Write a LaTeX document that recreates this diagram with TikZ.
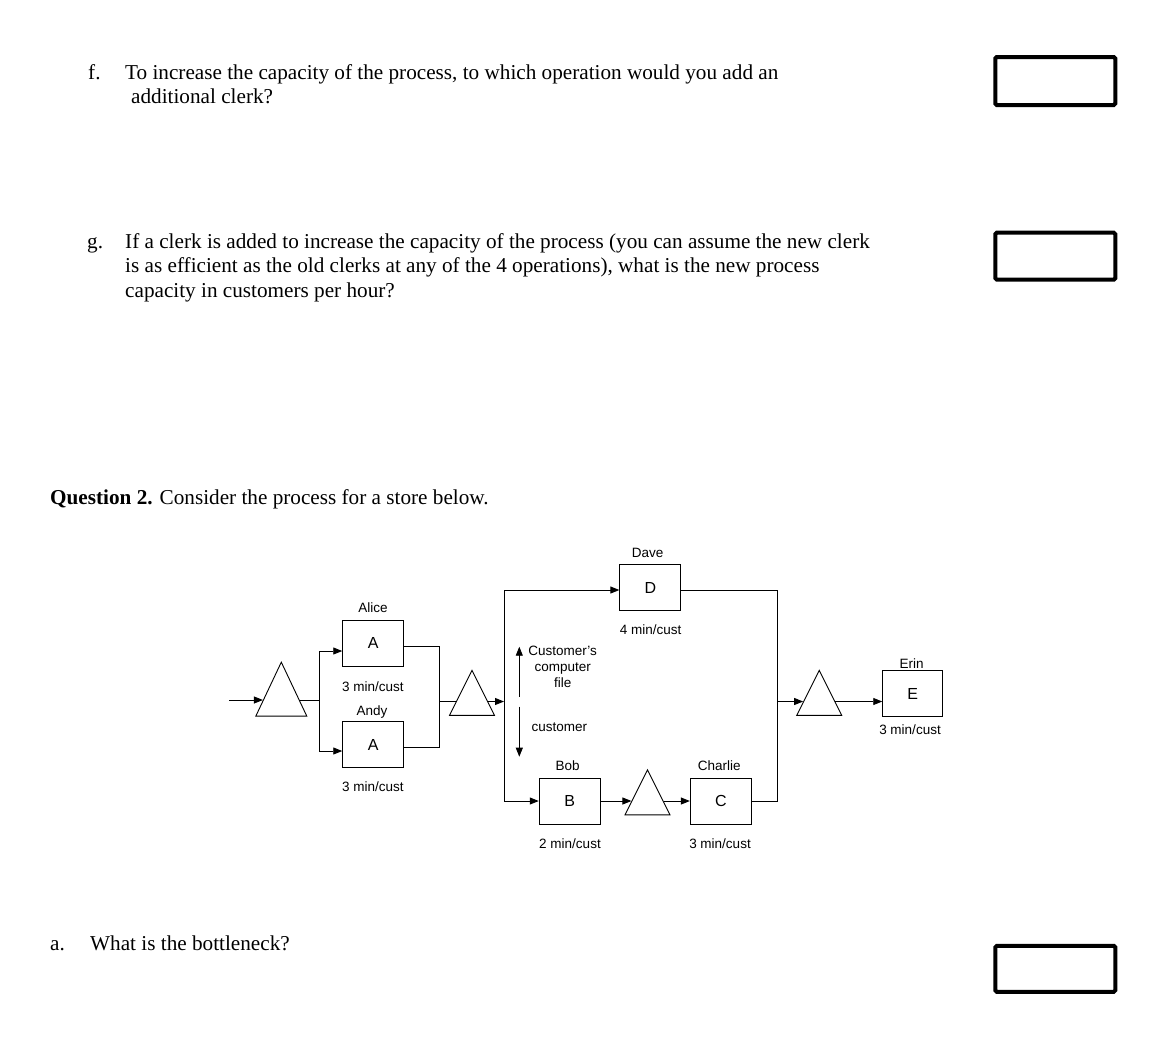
\documentclass[tikz,border=0pt]{standalone}
\usepackage{fontspec}
\setmainfont{Liberation Serif}
\setsansfont{Liberation Sans}
\usetikzlibrary{positioning, arrows.meta, shapes.geometric}

\begin{document}
\begin{tikzpicture}[
    x=1pt, y=-1pt,
    % question text: one node per printed line
    qline/.style = {anchor=base west, inner sep=0pt, font=\fontsize{21.2}{24}\selectfont},
    ansbox/.style = {draw=black, line width=4pt, rounded corners=1.5pt, minimum width=120pt, inner sep=0pt},
    proc/.style   = {draw=black, line width=0.9pt, minimum width=61pt, minimum height=46pt, inner sep=0pt,
                     font=\sffamily\fontsize{16}{18}\selectfont},
    lbl/.style    = {inner sep=0pt, font=\sffamily\fontsize{13.5}{16}\selectfont},
    inv/.style    = {draw=black, line width=0.9pt, isosceles triangle, isosceles triangle stretches,
                     shape border rotate=90, minimum width=45pt, minimum height=45pt, inner sep=0pt},
    link/.style   = {line width=0.9pt},
    flow/.style   = {link, -{Triangle[length=9pt, width=7pt]}},
  ]
  \fill[white] (0,0) rectangle (1150,1044);
  \useasboundingbox (0,0) rectangle (1150,1044);

  %% ---------- questions ----------
  \node[qline] (fLbl)   at (88,79)    {f.};
  \node[qline] (fLine1) at (125,79)   {To increase the capacity of the process, to which operation would you add an};
  \node[qline] (fLine2) at (131,103)  {additional clerk?};
  \node[qline] (gLbl)   at (87,248)   {g.};
  \node[qline] (gLine1) at (125,248)  {If a clerk is added to increase the capacity of the process (you can assume the new clerk};
  \node[qline] (gLine2) at (125,272.5) {is as efficient as the old clerks at any of the 4 operations), what is the new process};
  \node[qline] (gLine3) at (125,297)  {capacity in customers per hour?};
  \node[qline] (qTwo)   at (50,504)   {\textbf{Question 2.} Consider the process for a store below.};
  \node[qline] (aLbl)   at (50,950)   {a.};
  \node[qline] (aLine)  at (90,950)   {What is the bottleneck?};

  \node[ansbox, minimum height=48pt] (ansF) at (1055.3,81)    {};
  \node[ansbox, minimum height=47pt] (ansG) at (1055.3,256.2) {};
  \node[ansbox, minimum height=46pt] (ansA) at (1055.3,968.8) {};

  %% ---------- process: buffers and operations ----------
  \node[inv, minimum width=51pt, minimum height=54pt] (tri1) at (281.3,700) {};
  \node[inv] (tri2) at (472,701.5)   {};
  \node[inv] (tri3) at (647.5,801)   {};
  \node[inv] (tri4) at (819.2,701.5) {};

  \node[proc] (alice)   at (373.2,643)   {A};
  \node[proc] (andy)    at (373.2,744.7) {A};
  \node[proc] (dave)    at (650.3,587.5) {D};
  \node[proc] (bob)     at (569.7,801)   {B};
  \node[proc] (charlie) at (720.8,801)   {C};
  \node[proc, minimum width=60pt] (erin) at (912.7,693.8) {E};

  % names above, rates below
  \node[lbl] (aliceName)   at (373,608)     {Alice};
  \node[lbl] (aliceRate)   at (373,686.7)   {3 min/cust};
  \node[lbl] (andyName)    at (372,711.7)   {Andy};
  \node[lbl] (andyRate)    at (373,787)     {3 min/cust};
  \node[lbl] (daveName)    at (647.7,553.3) {Dave};
  \node[lbl] (daveRate)    at (650.7,630)   {4 min/cust};
  \node[lbl] (bobName)     at (567.7,766)   {Bob};
  \node[lbl] (bobRate)     at (570,843.3)   {2 min/cust};
  \node[lbl] (charlieName) at (719.3,766)   {Charlie};
  \node[lbl] (charlieRate) at (720,843.3)   {3 min/cust};
  \node[lbl] (erinName)    at (911.7,663.3) {Erin};
  \node[lbl] (erinRate)    at (910,730)     {3 min/cust};
  \node[lbl, align=center] (fileTxt) at (562.7,666.7) {Customer's\\computer\\file};
  \node[lbl] (custTxt)     at (559.3,726.7) {customer};

  %% ---------- junctions ----------
  \coordinate (inStart)  at (229,700);
  \coordinate (split)    at (319,700);
  \coordinate (merge)    at (439,701.5);
  \coordinate (busL)     at (504,701.5);
  \coordinate (busR)     at (777.3,701.5);
  \coordinate (fileLow)  at (519.3,696.7);
  \coordinate (fileTip)  at (519.3,646.7);
  \coordinate (custHigh) at (519.3,706.7);
  \coordinate (custTip)  at (519.3,756.7);

  %% ---------- flows ----------
  \draw[flow] (inStart) -- (tri1);
  \draw[link] (tri1) -- (split);
  \draw[flow] (split) |- ([yshift=-8pt]alice.west);
  \draw[flow] (split) |- ([yshift=-6.3pt]andy.west);
  \draw[link] ([yshift=-3pt]alice.east) -| (merge);
  \draw[link] ([yshift=-2.3pt]andy.east) -| (merge);
  \draw[link] (merge) -- (tri2);
  \draw[flow] (tri2) -- (busL);

  \draw[flow] (busL) |- ([yshift=-2.5pt]dave.west);
  \draw[flow] (busL) |- (bob.west);
  \draw[flow] (bob) -- (tri3);
  \draw[flow] (tri3) -- (charlie);
  \draw[link] ([yshift=-2.5pt]dave.east) -| (busR);
  \draw[link] (charlie) -| (busR);
  \draw[flow] (busR) -- (tri4);
  \draw[flow] (tri4) -- ([yshift=-7.7pt]erin.west);

  \draw[flow] (fileLow) -- (fileTip);
  \draw[flow] (custHigh) -- (custTip);
\end{tikzpicture}
\end{document}
